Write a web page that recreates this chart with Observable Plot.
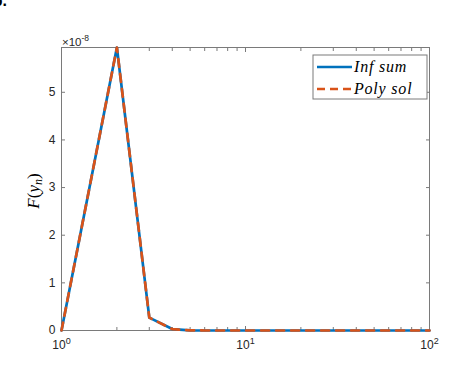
<!DOCTYPE html>
<html><head><meta charset="utf-8">
<script src="https://cdn.jsdelivr.net/npm/d3@7"></script>
<script src="https://cdn.jsdelivr.net/npm/@observablehq/plot@0.6"></script>
<style>
html,body{margin:0;padding:0;background:#fff;}
#chart{width:474px;height:370px;position:relative;overflow:hidden;}
</style></head>
<body><div id="chart"></div>
<script>
// Data (F values in absolute units)
const nValues = [1,2,3,4,5,6,7,8,9,10,20,30,40,50,60,70,80,90,100];
const infSum  = [0,5.94e-8,0.27e-8,0.03e-8,0.004e-8,0,0,0,0,0,0,0,0,0,0,0,0,0,0];
const polySol = [0,5.94e-8,0.27e-8,0.03e-8,0.004e-8,0,0,0,0,0,0,0,0,0,0,0,0,0,0];
const yTicks = [0,1e-8,2e-8,3e-8,4e-8,5e-8];
const xMajor = [1,10,100];
const xMajorExp = ["0","1","2"];
const xMinor = [2,3,4,5,6,7,8,9,20,30,40,50,60,70,80,90];
const seriesNames = ["Inf sum","Poly sol"];
const colors = ["#0072BD","#D95319"];

const infData = nValues.map((n,i)=>({n, v: infSum[i]}));
const polyData = nValues.map((n,i)=>({n, v: polySol[i]}));

const axisColor = "#7a7a7a";
const sans = "'Liberation Sans', Arial, sans-serif";
const serif = "'Liberation Serif', 'Times New Roman', serif";
const svg = Plot.plot({
  width: 474, height: 370,
  marginLeft: 61, marginRight: 45, marginTop: 47, marginBottom: 40,
  style: {fontFamily: sans, fontSize: "12px", color: "#262626", background: "white"},
  x: {type: "log", domain: [1,100]},
  y: {domain: [0, 5.94e-8]},
  marks: [
    Plot.frame({stroke: axisColor, strokeWidth: 1}),
    Plot.axisY(yTicks, {anchor: "left", tickSize: -4, tickPadding: 10, stroke: axisColor, tickFormat: d => String(Math.round(d*1e8)), label: null}),
    Plot.axisY(yTicks, {anchor: "right", tickSize: -4, stroke: axisColor, tickFormat: () => "", label: null}),
    Plot.axisX(xMajor, {anchor: "bottom", tickSize: -4, tickPadding: 14, stroke: axisColor, tickFormat: () => "10", label: null}),
    Plot.axisX(xMinor, {anchor: "bottom", tickSize: -3, stroke: axisColor, tickFormat: () => "", label: null}),
    Plot.axisX(xMajor, {anchor: "top", tickSize: -4, stroke: axisColor, tickFormat: () => "", label: null}),
    Plot.axisX(xMinor, {anchor: "top", tickSize: -3, stroke: axisColor, tickFormat: () => "", label: null}),
    Plot.line(infData, {x: "n", y: "v", stroke: colors[0], strokeWidth: 2.7}),
    Plot.line(polyData, {x: "n", y: "v", stroke: colors[1], strokeWidth: 2.7, strokeDasharray: "8,7"})
  ]
});

const s = d3.select(svg);
// tick label font size and superscripts
s.selectAll('g[aria-label="y-axis tick label"] text, g[aria-label="x-axis tick label"] text')
  .attr("font-size", "12px").attr("fill", "#262626");
let k = 0;
s.selectAll("text").each(function(){
  if (this.textContent === "10" && this.closest('g[aria-label="x-axis tick label"]')) {
    d3.select(this).append("tspan").attr("dy", "-5").attr("font-size", "9px").text(xMajorExp[k++]);
  }
});

// exponent label
const ex = s.append("text").attr("x", 62).attr("y", 45.5).attr("text-anchor", "start").attr("font-size", "11.5px").attr("fill", "#262626")
  .attr("font-family", sans).text("\u00d710");
ex.append("tspan").attr("dy", -5).attr("font-size", "8.5px").text("-8");

// y label
const yl = s.append("text").attr("transform", "translate(39,191) rotate(-90)").attr("text-anchor", "middle")
  .attr("font-family", serif).attr("font-size", "17px").attr("fill", "#000");
yl.append("tspan").attr("font-style", "italic").text("F");
yl.append("tspan").text("(");
yl.append("tspan").attr("font-style", "italic").text("y");
yl.append("tspan").attr("font-style", "italic").attr("font-size", "12px").attr("dy", 3).text("n");
yl.append("tspan").attr("dy", -3).text(")");

// legend
const lg = s.append("g");
lg.append("rect").attr("x", 313).attr("y", 55).attr("width", 114).attr("height", 44)
  .attr("fill", "white").attr("stroke", axisColor).attr("stroke-width", 1);
const rowsY = [67, 89];
seriesNames.forEach((name, i) => {
  lg.append("line").attr("x1", 317).attr("x2", 352).attr("y1", rowsY[i]).attr("y2", rowsY[i])
    .attr("stroke", colors[i]).attr("stroke-width", 2.5).attr("stroke-dasharray", i ? "8,5" : null);
  lg.append("text").attr("x", 354).attr("y", rowsY[i] + 5).attr("text-anchor", "start")
    .attr("font-family", serif).attr("font-style", "italic")
    .attr("font-size", "16px").attr("letter-spacing", "0.8px").attr("fill", "#000").text(name);
});

// cropped panel label at top-left
s.append("text").attr("x", 7).attr("y", 6).attr("text-anchor", "end").attr("font-weight", "bold")
  .attr("font-size", "16px").attr("font-family", sans).attr("fill", "#000").text("b.");

document.getElementById("chart").appendChild(svg);
</script>
</body></html>
